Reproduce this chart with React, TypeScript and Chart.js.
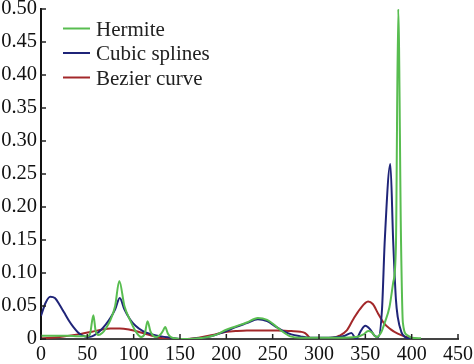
import { useEffect, useRef } from 'react';
import { Chart, registerables } from 'chart.js';

Chart.register(...registerables);

const seriesNames = ['Hermite', 'Cubic splines', 'Bezier curve'];
const seriesColors = ['#58bd50', '#1f2478', '#a3282a'];

const xTicks = [0, 50, 100, 150, 200, 250, 300, 350, 400, 450];
const yTicks = [0, 0.05, 0.1, 0.15, 0.2, 0.25, 0.3, 0.35, 0.4, 0.45, 0.5];

const hermiteX = [0, 10, 20, 30, 40, 50, 53, 56.5, 59, 62, 66, 70, 75, 80, 84.5, 90, 96, 102, 108, 112, 115, 118, 121, 125, 129, 131.5, 134, 137, 140, 145, 150, 160, 170, 180, 190, 200, 210, 222, 234, 244, 252, 258, 264, 269, 280, 300, 320, 340, 348, 353, 357, 362, 367, 371, 376, 380, 383, 385.5, 388.5, 390.5, 395, 400, 410];
const hermiteY = [0.005, 0.005, 0.005, 0.005, 0.004, 0.004, 0.008, 0.036, 0.012, 0.006, 0.009, 0.016, 0.029, 0.05, 0.088, 0.05, 0.029, 0.012, 0.003, 0.008, 0.027, 0.012, 0.005, 0.003, 0.007, 0.012, 0.018, 0.008, 0.003, 0.001, 0.0, 0.0, 0.001, 0.003, 0.007, 0.014, 0.019, 0.025, 0.032, 0.029, 0.021, 0.014, 0.008, 0.004, 0.002, 0.002, 0.002, 0.003, 0.007, 0.012, 0.01, 0.003, 0.01, 0.025, 0.048, 0.085, 0.14, 0.5, 0.15, 0.025, 0.006, 0.002, 0.001];

const cubicX = [0, 5, 10, 15, 20, 25, 30, 35, 40, 45, 50, 55, 60, 65, 70, 75, 80, 85, 90, 96, 102, 110, 120, 130, 140, 150, 160, 170, 180, 190, 200, 210, 222, 234, 244, 252, 260, 270, 280, 290, 300, 310, 320, 328, 335, 340, 345, 350, 355, 360, 364, 368, 371, 377, 380, 383, 385, 389, 393, 400];
const cubicY = [0.035, 0.055, 0.064, 0.062, 0.052, 0.04, 0.028, 0.018, 0.01, 0.005, 0.003, 0.004, 0.008, 0.014, 0.022, 0.032, 0.045, 0.062, 0.045, 0.03, 0.02, 0.012, 0.007, 0.004, 0.002, 0.0, 0.0, 0.001, 0.003, 0.007, 0.012, 0.018, 0.024, 0.03, 0.027, 0.02, 0.013, 0.007, 0.004, 0.002, 0.002, 0.002, 0.003, 0.005, 0.009, 0.0, 0.012, 0.02, 0.015, 0.005, 0.003, 0.045, 0.15, 0.265, 0.15, 0.06, 0.033, 0.01, 0.003, 0.0];

const bezierX = [0, 20, 40, 55, 65, 75, 85, 96, 105, 112, 120, 128, 140, 155, 170, 185, 196, 210, 222, 240, 255, 270, 280, 285, 288, 291, 300, 315, 322, 330, 337, 344, 353, 358, 364, 370, 377, 385, 392, 400];
const bezierY = [0.001, 0.003, 0.007, 0.011, 0.014, 0.016, 0.016, 0.014, 0.011, 0.008, 0.005, 0.002, 0.0, 0.0, 0.002, 0.006, 0.01, 0.012, 0.013, 0.013, 0.013, 0.012, 0.011, 0.009, 0.005, 0.001, 0.001, 0.002, 0.005, 0.013, 0.03, 0.045, 0.057, 0.053, 0.038, 0.024, 0.015, 0.008, 0.004, 0.001];

const FONT = '"Liberation Serif", "Times New Roman", serif';

const toPoints = (xs: number[], ys: number[]) => xs.map((x, i) => ({ x, y: ys[i] }));

const overlayPlugin = {
  id: 'overlay',
  afterDraw(chart: any) {
    const ctx = chart.ctx;
    const xs = chart.scales.x;
    const ys = chart.scales.y;
    const area = chart.chartArea;
    ctx.save();
    ctx.strokeStyle = '#222';
    ctx.lineWidth = 1.5;
    xTicks.forEach((v) => {
      const px = xs.getPixelForValue(v);
      ctx.beginPath();
      ctx.moveTo(px, area.bottom);
      ctx.lineTo(px, area.bottom - 5);
      ctx.stroke();
    });
    yTicks.forEach((v) => {
      const py = ys.getPixelForValue(v);
      ctx.beginPath();
      ctx.moveTo(area.left, py);
      ctx.lineTo(area.left + 5, py);
      ctx.stroke();
    });
    const legendX = area.left + 22;
    const legendY = area.top + 19.5;
    const step = 24.5;
    ctx.font = '21px ' + FONT;
    ctx.textBaseline = 'middle';
    ctx.textAlign = 'left';
    seriesNames.forEach((name, i) => {
      const y = legendY + i * step;
      ctx.strokeStyle = seriesColors[i];
      ctx.lineWidth = 2;
      ctx.beginPath();
      ctx.moveTo(legendX, y);
      ctx.lineTo(legendX + 27, y);
      ctx.stroke();
      ctx.fillStyle = '#222';
      ctx.fillText(name, legendX + 33, y + 1.5);
    });
    ctx.restore();
  },
};

export default function App() {
  const ref = useRef<HTMLCanvasElement>(null);
  useEffect(() => {
    document.body.style.margin = '0';
    const canvas = ref.current;
    if (!canvas) return;
    const datasets = [
      { label: seriesNames[0], data: toPoints(hermiteX, hermiteY), borderColor: seriesColors[0], borderWidth: 2 },
      { label: seriesNames[1], data: toPoints(cubicX, cubicY), borderColor: seriesColors[1], borderWidth: 2 },
      { label: seriesNames[2], data: toPoints(bezierX, bezierY), borderColor: seriesColors[2], borderWidth: 2 },
    ].map((d) => ({ ...d, pointRadius: 0, fill: false, cubicInterpolationMode: 'monotone' as const }));
    const chart = new Chart(canvas, {
      type: 'line',
      data: { datasets },
      options: {
        animation: false,
        responsive: false,
        layout: { padding: { top: 9, right: 16, left: 0, bottom: 0 } },
        plugins: { legend: { display: false }, tooltip: { enabled: false } },
        scales: {
          x: {
            type: 'linear',
            min: 0,
            max: 450,
            afterBuildTicks: (s: any) => { s.ticks = xTicks.map((v) => ({ value: v })); },
            afterFit: (s: any) => { s.height = 25; s.paddingLeft = 0; s.paddingRight = 0; },
            grid: { display: false, drawTicks: false },
            border: { display: true, color: '#444', width: 2 },
            ticks: { color: '#111', font: { family: FONT, size: 20 }, padding: 4, maxRotation: 0, autoSkip: false, callback: (v: any) => String(v) },
          },
          y: {
            type: 'linear',
            min: 0,
            max: 0.5,
            afterBuildTicks: (s: any) => { s.ticks = yTicks.map((v) => ({ value: v })); },
            afterFit: (s: any) => { s.width = 41; s.paddingTop = 0; s.paddingBottom = 0; },
            grid: { display: false, drawTicks: false },
            border: { display: true, color: '#111', width: 2 },
            ticks: { color: '#111', font: { family: FONT, size: 20.5 }, padding: 4, autoSkip: false, callback: (v: any) => (v === 0 ? '0' : Number(v).toFixed(2)) },
          },
        },
      },
      plugins: [overlayPlugin],
    });
    return () => chart.destroy();
  }, []);
  return <canvas ref={ref} width={474} height={364} style={{ display: 'block' }} />;
}
